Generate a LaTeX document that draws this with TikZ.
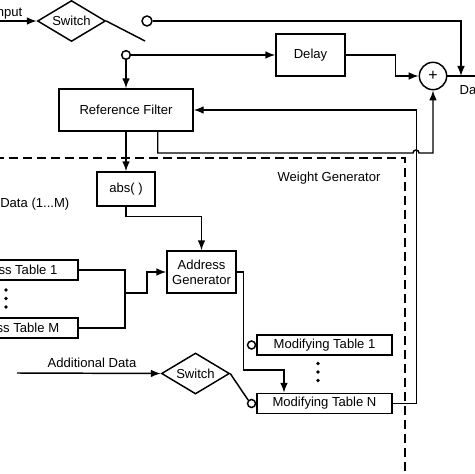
\documentclass[tikz,border=0pt]{standalone}
\usepackage{fontspec}
\setmainfont{Liberation Sans}
\usepackage{tikz}
\usetikzlibrary{shapes.geometric}
\usetikzlibrary{arrows.meta, positioning}
\newcommand{\boxW}{51.75pt}
\newcommand{\boxH}{31.5pt}
\newcommand{\tabW}{101.25pt}
\newcommand{\tabH}{15pt}
\newcommand{\dotgap}{8.5}

\begin{document}
\begin{tikzpicture}[x=0.75pt, y=-0.75pt, line width=1.1pt, font=\fontsize{9.8}{11}\selectfont,
    block/.style={draw, rectangle, inner sep=0pt, minimum width=\boxW, minimum height=\boxH},
    tablebox/.style={draw, rectangle, inner sep=0pt, minimum width=\tabW, minimum height=\tabH},
    switchd/.style={draw, diamond, aspect=1.65, inner sep=0pt, minimum width=51pt, minimum height=30.75pt},
    term/.style={draw, circle, inner sep=0pt, minimum size=6pt},
    arr/.style={-{Latex[length=7.5pt,width=5.8pt]}}]
\useasboundingbox (0,0) rectangle (474,474);

\node[inner sep=0pt, anchor=east] at (23,13) (InLbl) {Input};
\node[switchd] at (71.5,21) (Sw1) {Switch};
\node[term, minimum size=7.5pt] at (147,21) (T1) {};
\node[term, minimum size=6.5pt] at (126,55) (T2) {};
\node[block] at (310.5,55) (Delay) {Delay};
\node[draw, circle, inner sep=0pt, minimum size=20.5pt, font=\fontsize{12}{12}\selectfont] at (433,76) (Sum) {+};
\node[inner sep=0pt, anchor=west] at (459,90) (OutLbl) {Data};
\node[block, minimum width=100.5pt] at (126,110) (RefF) {Reference Filter};
\node[block, minimum width=43.5pt, minimum height=25.5pt] at (126,189) (Abs) {abs( )};
\node at (329,178) (WGLbl) {Weight Generator};
\node[inner sep=0pt, anchor=east] at (70,204) (DataLbl) {Data (1...M)};
\node[block, align=center] at (201.5,272) (AddrGen) {Address\\Generator};
\node[tablebox] at (10.5,270) (AT1) {Address Table 1};
\node[tablebox] at (10.5,328) (ATM) {Address Table M};
\node[tablebox] at (324.5,345) (MT1) {Modifying Table 1};
\node[tablebox] at (324.5,403.5) (MTN) {Modifying Table N};
\node[term, left=0pt of MT1] (T3) {};
\node[term, left=0pt of MTN] (T4) {};
\node[switchd] at (195.5,373.5) (Sw2) {Switch};
\node[inner sep=0pt] at (92,363) (AddLbl) {Additional Data};

% dots between the tables
\foreach \i in {0,1,2} {
    \fill (6,290+\i*\dotgap) circle (1.9);
    \fill (318,363.5+\i*\dotgap) circle (1.9);
}

\coordinate (InSrc) at (-10,21);
\coordinate (Lever1) at (145,41);
\coordinate (OutJ) at (461,76);
\coordinate (OutEnd) at (480,76);
\coordinate (Hop) at (413,153);
\coordinate (Bus) at (125,293);
\coordinate (ModIn) at (284,370);
\coordinate (AddSrc) at (17,373);

\draw[arr] (InSrc) -- (Sw1.west);
\draw (Sw1.east) -- (Lever1);
\draw[arr] (T1.east) -| (OutJ);
\draw (Sum.east) -- (OutEnd);
\draw[arr] (T2.east) -- (Delay.west);
\draw[arr] (T2.south) -- (RefF.north);
\draw[arr] (Delay.east) -- ++(50,0) |- (Sum.west);
\draw[arr] ([xshift=-27pt]RefF.south east) |- (Hop) arc[start angle=180, end angle=0, radius=2.25pt] -| (Sum.south);
\draw[arr] (MTN.east) -- ++(24,0) |- (RefF.east);
\draw[arr] (RefF.south) -- (Abs.north);
\draw[arr] (Abs.south) -- ++(0,10) -| (AddrGen.north);
\draw (AT1.east) -| (Bus);
\draw (ATM.east) -| (Bus);
\draw[arr] (Bus) -- ++(22,0) |- (AddrGen.west);
\draw[arr] (AddrGen.east) -- ++(7,0) |- (ModIn) -- (ModIn |- MTN.north);
\draw[arr] (AddSrc) -- (Sw2.west);
\draw (Sw2.east) -- (T4.135);
\draw[dashed, dash pattern=on 6.5pt off 4pt] (-5,158) -| (405,480);

\end{tikzpicture}
\end{document}
